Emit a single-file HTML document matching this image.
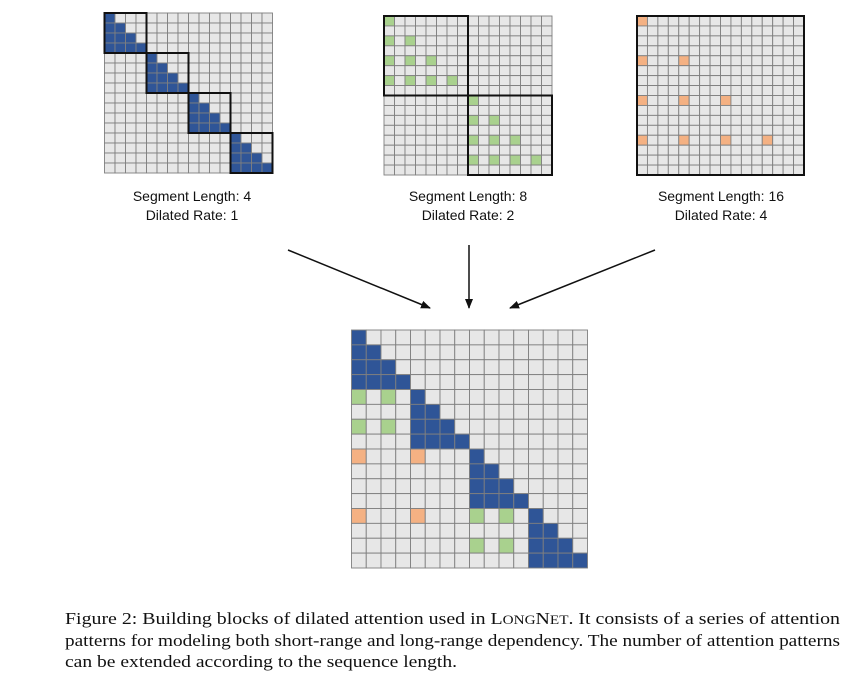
<!DOCTYPE html>
<html><head><meta charset="utf-8">
<style>html,body{margin:0;padding:0;background:#fff;width:866px;height:677px;overflow:hidden}</style>
</head><body>
<svg id="s" xmlns="http://www.w3.org/2000/svg" width="866" height="677" viewBox="0 0 866 677">
<defs><marker id="ah" markerWidth="10" markerHeight="8" refX="9" refY="4" orient="auto" markerUnits="userSpaceOnUse"><path d="M0,0 L10,4 L0,8 z" fill="#111"/></marker></defs>
<g font-family="Liberation Sans, sans-serif" font-size="14" fill="#111" text-anchor="middle">
<text x="192" y="201">Segment Length: 4</text><text x="192" y="220">Dilated Rate: 1</text>
<text x="468" y="201">Segment Length: 8</text><text x="468" y="220">Dilated Rate: 2</text>
<text x="721" y="201">Segment Length: 16</text><text x="721" y="220">Dilated Rate: 4</text>
</g>
<g stroke="#111" stroke-width="1.5" marker-end="url(#ah)">
<line x1="288" y1="250" x2="430" y2="308"/>
<line x1="469" y1="245" x2="469" y2="308"/>
<line x1="655" y1="250" x2="510" y2="308"/>
</g>
<g font-family="Liberation Serif, serif" font-size="17" fill="#111">
<text x="65" y="624" textLength="775" lengthAdjust="spacingAndGlyphs">Figure 2: Building blocks of dilated attention used in L<tspan font-size="13">ONG</tspan>N<tspan font-size="13">ET</tspan>. It consists of a series of attention</text>
<text x="65" y="646" textLength="775" lengthAdjust="spacingAndGlyphs">patterns for modeling both short-range and long-range dependency. The number of attention patterns</text>
<text x="65" y="667" textLength="392" lengthAdjust="spacingAndGlyphs">can be extended according to the sequence length.</text>
</g>
</svg>
<script>
var s=document.getElementById('s'),NS='http://www.w3.org/2000/svg';
function r(x,y,w,h,f,st,sw){var e=document.createElementNS(NS,'rect');e.setAttribute('x',x);e.setAttribute('y',y);e.setAttribute('width',w);e.setAttribute('height',h);e.setAttribute('fill',f);if(st){e.setAttribute('stroke',st);e.setAttribute('stroke-width',sw);}s.appendChild(e);}
var B='#2f5597',G='#a9d18e',O='#f4b183';
function grid(x0,y0,W,H,col,boxes){var cw=W/16,ch=H/16;
 for(var i=0;i<16;i++)for(var j=0;j<16;j++){var c=col(i,j)||'#e7e7e7';r(x0+j*cw,y0+i*ch,cw,ch,c,'#7f7f7f',0.9);}
 (boxes||[]).forEach(function(b){r(x0+b[1]*cw,y0+b[0]*ch,b[2]*cw,b[2]*ch,'none','#111',2);});}
function blue(i,j){return (Math.floor(i/4)==Math.floor(j/4)&&j<=i)?B:null;}
function green(i,j){return (Math.floor(i/8)==Math.floor(j/8)&&j<=i&&i%2==0&&j%2==0)?G:null;}
function orange(i,j){return (j<=i&&i%4==0&&j%4==0)?O:null;}
grid(104.5,13,168,160,blue,[[0,0,4],[4,4,4],[8,8,4],[12,12,4]]);
grid(384,16,168,159,green,[[0,0,8],[8,8,8]]);
grid(637,16,167,159,orange,[[0,0,16]]);
grid(351.5,330,236,238,function(i,j){return blue(i,j)||green(i,j)||orange(i,j);});
</script>
</body></html>
